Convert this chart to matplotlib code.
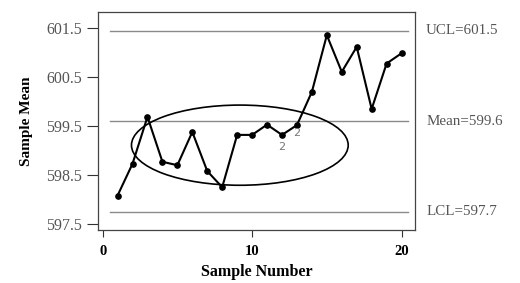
import matplotlib.pyplot as plt
from matplotlib.patches import Ellipse

# sample means
samples = list(range(1, 21))
means = [598.08, 598.73, 599.69, 598.77, 598.70, 599.38, 598.58, 598.25, 599.32, 599.32,
         599.53, 599.32, 599.52, 600.20, 601.36, 600.61, 601.12, 599.85, 600.78, 600.99]
ucl, center, lcl = 601.45, 599.6, 597.75
limit_labels = ["UCL=601.5", "Mean=599.6", "LCL=597.7"]
y_ticks = [597.5, 598.5, 599.5, 600.5, 601.5]
x_ticks = [0, 10, 20]

plt.rcParams['font.family'] = ['Liberation Serif', 'DejaVu Serif']

fig = plt.figure(figsize=(5.2, 2.83), dpi=100)
ax = fig.add_axes([97.7 / 520, 1 - 230 / 283, (415 - 97.7) / 520, (230 - 11.7) / 283])

# control limit lines
for v in (ucl, center, lcl):
    ax.plot([0.5, 20.45], [v, v], color='#8a8a8a', lw=1.0, zorder=1)
for v, lab in zip((ucl, center, lcl), limit_labels):
    ax.annotate(lab, xy=(1.0, v), xycoords=('axes fraction', 'data'), xytext=(8, 0),
                textcoords='offset points', va='center', ha='left',
                fontsize=10.8, color='#555555')

ax.plot(samples, means, color='black', lw=1.5, marker='o', markersize=3.8, zorder=3)

# "2" rule markers
ax.annotate("2", xy=(samples[11], means[11]), xytext=(0, -9), textcoords='offset points',
            ha='center', va='center', fontsize=8, color='#777777', family='DejaVu Sans')
ax.annotate("2", xy=(samples[12], means[12]), xytext=(0, -6), textcoords='offset points',
            ha='center', va='center', fontsize=8, color='#777777', family='DejaVu Sans')

ax.add_patch(Ellipse((9.18, 599.11), 14.5, 1.64, fill=False, edgecolor='black', lw=1.2, zorder=2))

ax.set_xlim(-0.33, 20.9)
ax.set_ylim(597.375, 601.84)
ax.set_yticks(y_ticks)
ax.set_yticklabels([f"{t:.1f}" for t in y_ticks], fontsize=11.5, color='#555555')
ax.set_xticks(x_ticks)
ax.set_xticklabels([str(t) for t in x_ticks], fontsize=10.5, fontweight='bold')
ax.tick_params(axis='y', length=8, width=0.8, color='#333333', pad=3)
ax.tick_params(axis='x', length=5, width=0.8, color='#333333', pad=6)
for s in ax.spines.values():
    s.set_color('#444444')
    s.set_linewidth(0.9)

ax.set_ylabel("Sample Mean", fontsize=11, fontweight='bold', labelpad=10)
ax.set_xlabel("Sample Number", fontsize=11.5, fontweight='bold', labelpad=4)

fig.savefig("out.png", dpi=100)
